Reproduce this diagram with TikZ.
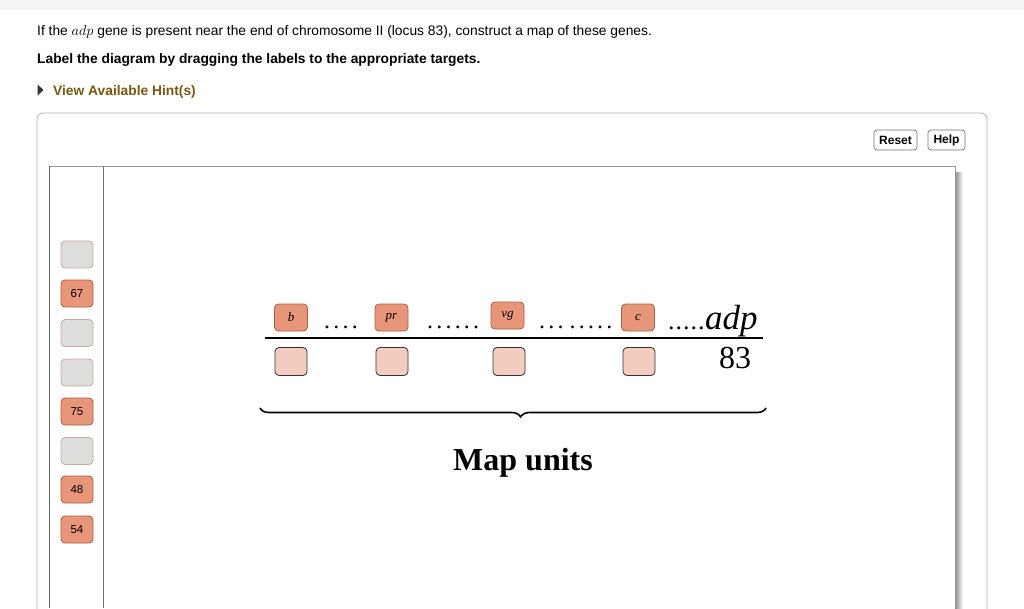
\documentclass[tikz,border=0pt]{standalone}
\usepackage{fontspec}
\setmainfont{Liberation Sans}
\newfontfamily\tms{Liberation Serif}
\usetikzlibrary{decorations.pathreplacing}
\definecolor{lab}{RGB}{232,150,122}
\definecolor{labb}{RGB}{170,95,65}
\definecolor{tgt}{RGB}{242,204,190}
\definecolor{grb}{RGB}{221,221,219}
\definecolor{grbd}{RGB}{200,170,158}
\definecolor{hint}{RGB}{122,88,18}
\newcommand{\dd}{.\kern3.2pt}
\newcommand{\ds}{.\kern1pt}
\tikzset{
  labelbox/.style={draw=labb,fill=lab,rounded corners=4pt,minimum width=33pt,minimum height=27pt,inner sep=0pt,line width=0.8pt},
  target/.style={draw=black!80,fill=tgt,rounded corners=4pt,minimum width=32pt,minimum height=28pt,inner sep=0pt,line width=0.8pt},
  emptybox/.style={draw=grbd,fill=grb,rounded corners=4pt,minimum width=32pt,minimum height=27pt,inner sep=0pt,line width=0.8pt},
  btn/.style={draw=black!55,rounded corners=3pt,minimum height=20pt,inner sep=0pt,font=\fontsize{12}{14}\selectfont\bfseries,line width=0.7pt},
  dots/.style={anchor=base west,inner sep=0pt,font=\tms\fontsize{24}{28}\selectfont},
  num/.style={font=\fontsize{11.5}{13}\selectfont},
  gene/.style={font=\tms\itshape\fontsize{13}{15}\selectfont}
}
\begin{document}
\begin{tikzpicture}[x=1pt,y=-1pt]
\useasboundingbox (0,0) rectangle (1024,608);
\fill[white] (0,0) rectangle (1024,608);
\fill[black!4] (0,0) rectangle (1024,10);
% header texts
\node[anchor=base west,inner sep=0pt,font=\fontsize{13.8}{16}\selectfont] (q1) at (37,35.5) {If the {\fontsize{15.5}{16}\selectfont$adp$} gene is present near the end of chromosome II (locus 83), construct a map of these genes.};
\node[anchor=base west,inner sep=0pt,font=\fontsize{13.8}{16}\selectfont\bfseries] (q2) at (37,63) {Label the diagram by dragging the labels to the appropriate targets.};
\fill[black!80] (37.5,84.5) -- (43.5,90) -- (37.5,95.5) -- cycle;
\node[anchor=base west,inner sep=0pt,font=\fontsize{13.8}{16}\selectfont\bfseries,text=hint] (hint) at (53,95) {View Available Hint(s)};
% outer box
\draw[black!30,line width=0.8pt,rounded corners=6pt] (37,620) -- (37,113) -- (987,113) -- (987,620);
\node[btn,minimum width=43pt] (reset) at (895.5,140) {Reset};
\node[btn,minimum width=37pt] (help) at (946.5,140) {Help};
% inner panel with shadow
\shade[left color=black!45,right color=white] (955,172) rectangle (963,608);
\fill[white] (49,166) rectangle (955,608);
\draw[black!40,line width=0.8pt] (49,608) -- (49,166) -- (955,166) -- (955,608);
\draw[black!60,line width=1pt] (49.5,166) -- (49.5,608);
\draw[black!55,line width=0.8pt] (103,166) -- (103,608);
% left column
\node[emptybox] (e1) at (77,254.5) {};
\node[labelbox,minimum width=32pt,num] (n67) at (77,293.5) {67};
\node[emptybox] (e2) at (77,333) {};
\node[emptybox] (e3) at (77,372.5) {};
\node[labelbox,minimum width=32pt,num] (n75) at (77,411.5) {75};
\node[emptybox] (e4) at (77,451) {};
\node[labelbox,minimum width=32pt,num] (n48) at (77,489.5) {48};
\node[labelbox,minimum width=32pt,num] (n54) at (77,529.5) {54};
% gene labels
\node[labelbox,gene] (b) at (291,317.5) {b};
\node[labelbox,gene] (pr) at (391.5,317.5) {pr};
\node[labelbox,gene] (vg) at (507.5,315.5) {vg};
\node[labelbox,gene] (c) at (638,317.5) {c};
% dots and adp
\node[dots] (d1) at (324,328) {\dd\dd\dd.};
\node[dots] (d2) at (427,328) {\dd\dd\dd\dd\dd.};
\node[dots] (d3) at (539,328) {\dd\dd.\kern6pt\dd\dd\dd\dd.};
\node[anchor=base west,inner sep=0pt] (adp) at (668,329) {{\tms\fontsize{26}{30}\selectfont\ds\ds\ds\ds.\kern0.5pt}{\tms\itshape\fontsize{35}{38}\selectfont adp}};
% chromosome line
\coordinate (l1) at (265,337.5);
\coordinate (l2) at (763,337.5);
\draw[line width=2pt] (l1) -- (l2);
% targets
\node[target] (t1) at (291,361.5) {};
\node[target] (t2) at (392,361.5) {};
\node[target] (t3) at (509,361.5) {};
\node[target] (t4) at (639,361.5) {};
\node[inner sep=0pt,font=\tms\fontsize{32}{36}\selectfont] (n83) at (735,358) {83};
% brace
\coordinate (br1) at (260,408);
\coordinate (br2) at (766,408);
\draw[line width=1.6pt,decorate,decoration={brace,mirror,amplitude=9pt,aspect=0.515}] (br1) -- (br2);
\node[inner sep=0pt,font=\tms\bfseries\fontsize{32}{36}\selectfont] (mu) at (523,463) {Map units};
\end{tikzpicture}
\end{document}
